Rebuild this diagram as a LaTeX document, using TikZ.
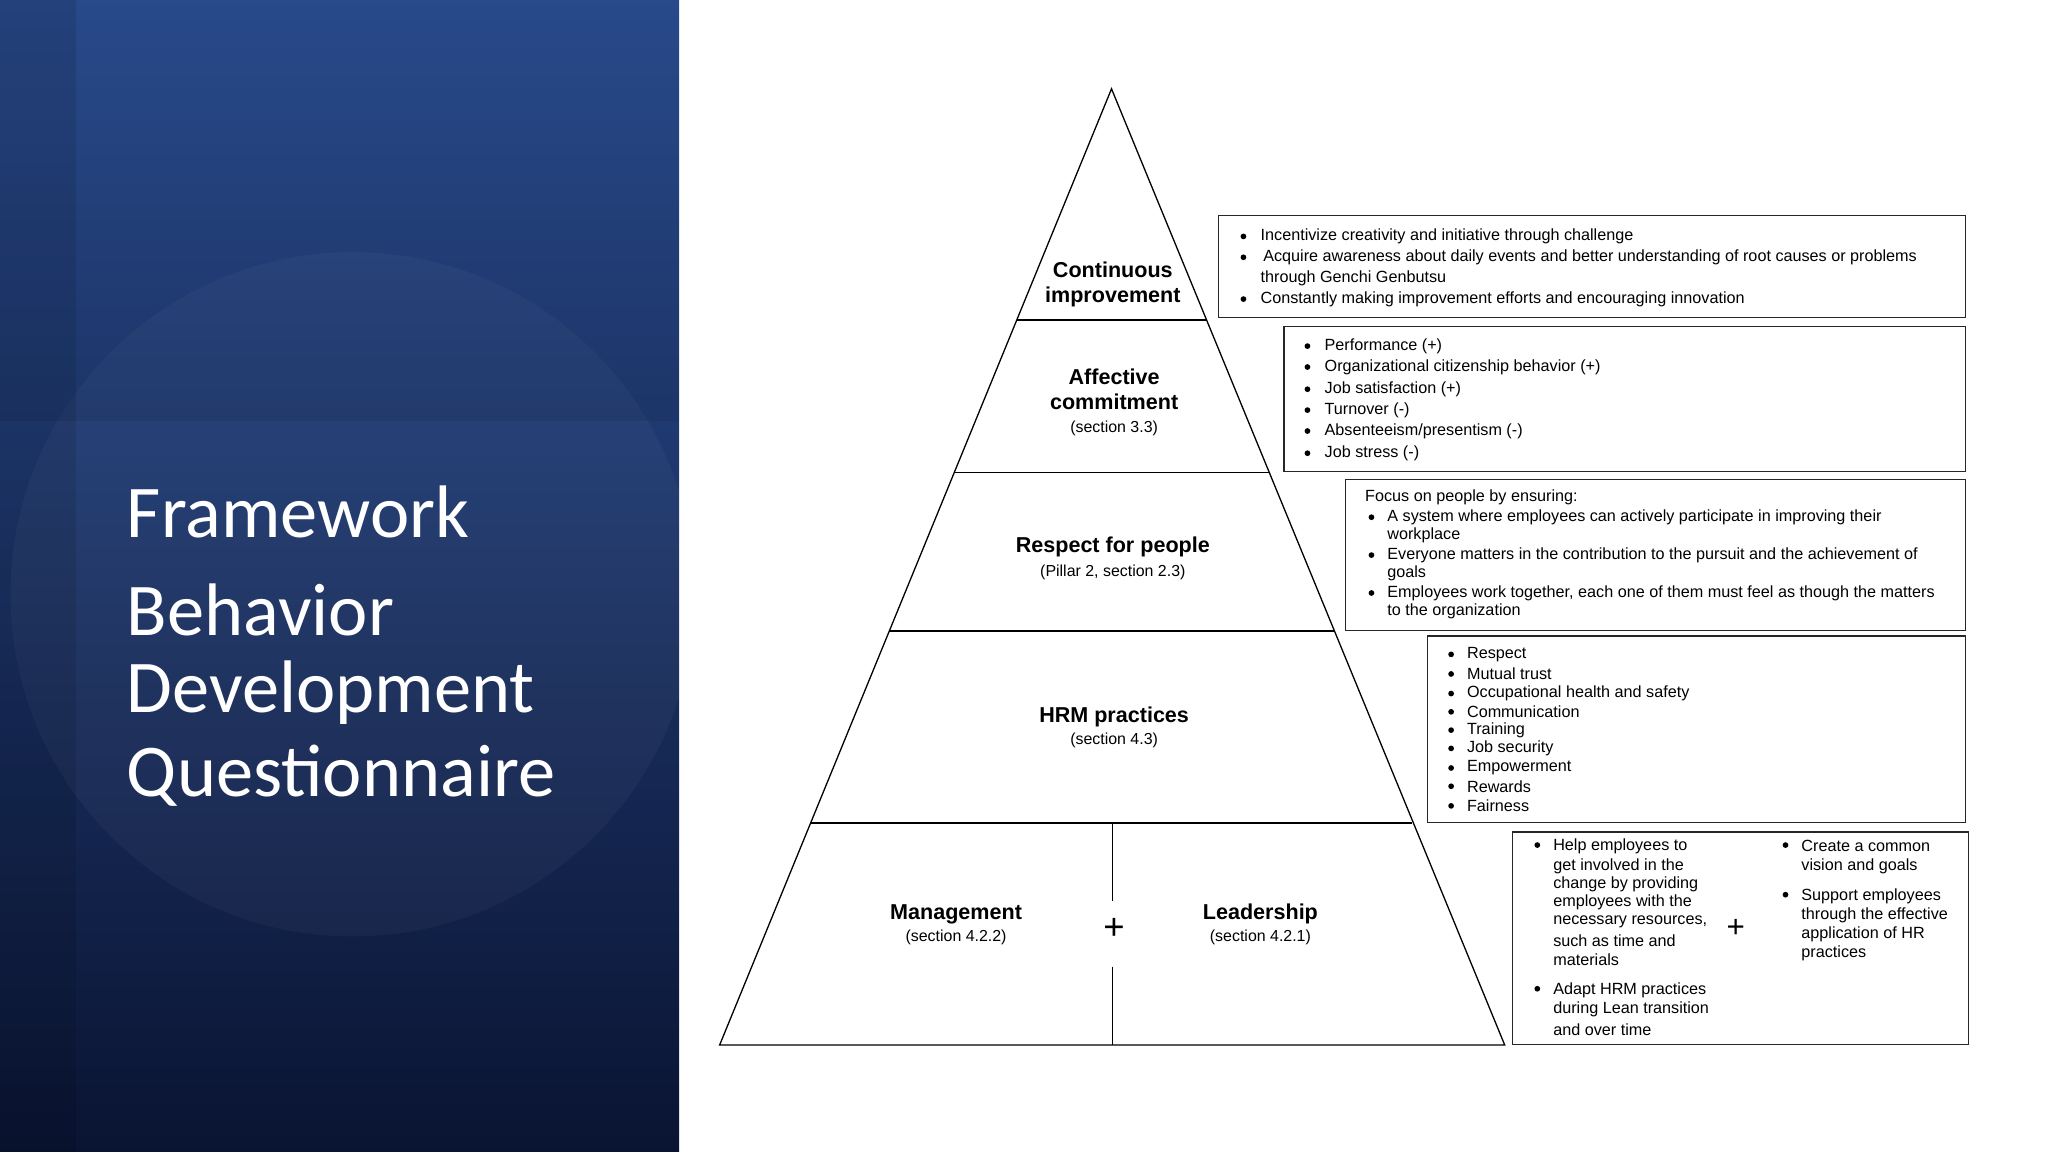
\documentclass[tikz,border=0pt]{standalone}
\usepackage{fontspec}
\setmainfont{Liberation Sans}
\newfontfamily\titlefont{Carlito}
\begin{document}
\begin{tikzpicture}[x=1pt,y=-1pt,
  sm/.style={anchor=west,inner sep=0pt,font=\fontsize{12.4}{12}\selectfont},
  bul/.style={circle,fill=black,inner sep=0pt,minimum size=4.4pt},
  lab/.style={align=center,font=\fontsize{16.5}{19}\selectfont\bfseries},
  sub/.style={font=\fontsize{12.2}{13}\selectfont},
  bx/.style={draw=black!85,line width=0.9pt},
  ttl/.style={anchor=west,text=white,inner sep=0pt,font=\titlefont\fontsize{57}{60}\selectfont}]
\useasboundingbox (0,0) rectangle (1568,882);
\fill[white] (0,0) rectangle (1568,882);
\shade[top color={rgb,255:red,44;green,80;blue,150},bottom color={rgb,255:red,10;green,20;blue,50}] (0,0) rectangle (520,882);
\begin{scope}
\clip (0,0) rectangle (520,882);
\fill[white,opacity=0.035] (270,455) circle (262);
\fill[black,opacity=0.08] (0,0) rectangle (520,322);
\fill[black,opacity=0.1] (0,0) rectangle (58,882);
\end{scope}
\node[ttl] (t1) at (97,392) {Framework};
\node[ttl] (t2) at (97,467) {Behavior};
\node[ttl] (t3) at (97,530) {Development};
\node[ttl] (t4) at (97,594) {Questionnaire};
% pyramid
\coordinate (ap) at (851,68);
\coordinate (bl) at (551,800);
\coordinate (br) at (1152,800);
\draw[line width=1pt] (ap) -- (bl) -- (br) -- cycle;
\foreach \yy in {245,362,483,630}{
  \pgfmathsetmacro\dx{0.409836*(\yy-68)}
  \draw[line width=1pt] (851-\dx,\yy) -- (851+\dx,\yy);}
\coordinate (v1) at (852,630); \coordinate (v2) at (852,690);
\coordinate (v3) at (852,740); \coordinate (v4) at (852,800);
\draw[line width=1pt] (v1) -- (v2) (v3) -- (v4);
\node[font=\fontsize{28}{28}\selectfont] (plus1) at (853,711) {+};
\node[lab] (l1) at (852,218) {Continuous\\improvement};
\node[lab] (l2) at (853,298) {Affective\\commitment};
\node[sub] (l2s) at (853,328) {(section 3.3)};
\node[lab] (l3) at (852,419) {Respect for people};
\node[sub] (l3s) at (852,438) {(Pillar 2, section 2.3)};
\node[lab] (l4) at (853,549) {HRM practices};
\node[sub] (l4s) at (853,567) {(section 4.3)};
\node[lab] (l5) at (732,700) {Management};
\node[sub] (l5s) at (732,718) {(section 4.2.2)};
\node[lab] (l6) at (965,700) {Leadership};
\node[sub] (l6s) at (965,718) {(section 4.2.1)};
% boxes
\draw[bx] (933,165) rectangle (1505,243);
\draw[bx] (983,250) rectangle (1505,361);
\draw[bx] (1030,367) rectangle (1505,483);
\draw[bx] (1093,487) rectangle (1505,630);
\draw[bx] (1158,637) rectangle (1507,800);
% box1
\foreach \yy in {181,197,229} \node[bul] at (952,\yy) {};
\node[sm] at (965,181) {Incentivize creativity and initiative through challenge};
\node[sm] at (967,197) {Acquire awareness about daily events and better understanding of root causes or problems};
\node[sm] at (965,213) {through Genchi Genbutsu};
\node[sm] at (965,229) {Constantly making improvement efforts and encouraging innovation};
% box2
\foreach \yy/\tt in {265/{Performance (+)},281/{Organizational citizenship behavior (+)},298/{Job satisfaction (+)},314/{Turnover (-)},330/{Absenteeism{/}presentism (-)},347/{Job stress (-)}}{
  \node[bul] at (1001,\yy) {}; \node[sm] at (1014,\yy) {\tt};}
% box3
\node[sm] at (1045,381) {Focus on people by ensuring:};
\foreach \yy in {396,425,454} \node[bul] at (1050,\yy) {};
\node[sm] at (1062,396) {A system where employees can actively participate in improving their};
\node[sm] at (1062,410) {workplace};
\node[sm] at (1062,425) {Everyone matters in the contribution to the pursuit and the achievement of};
\node[sm] at (1062,439) {goals};
\node[sm] at (1062,454) {Employees work together, each one of them must feel as though the matters};
\node[sm] at (1062,468) {to the organization};
% box4
\foreach \yy/\tt in {501/Respect,516/Mutual trust,531/Occupational health and safety,545/Communication,559/Training,573/Job security,588/Empowerment,602/Rewards,617/Fairness}{
  \node[bul] at (1111,\yy) {}; \node[sm] at (1123,\yy) {\tt};}
% box5
\foreach \yy in {647,757} \node[bul] at (1177,\yy) {};
\foreach \yy/\tt in {648/Help employees to,663/get involved in the,677/change by providing,691/employees with the,706/{necessary resources,},720/such as time and,735/materials,758/Adapt HRM practices,773/during Lean transition,788/and over time}
  \node[sm] at (1189,\yy) {\tt};
\node[font=\fontsize{24}{24}\selectfont] (plus2) at (1329,711) {+};
\foreach \yy in {647,685} \node[bul] at (1367,\yy) {};
\foreach \yy/\tt in {648/Create a common,663/vision and goals,686/Support employees,701/through the effective,715/application of HR,730/practices}
  \node[sm] at (1379,\yy) {\tt};
\end{tikzpicture}
\end{document}
